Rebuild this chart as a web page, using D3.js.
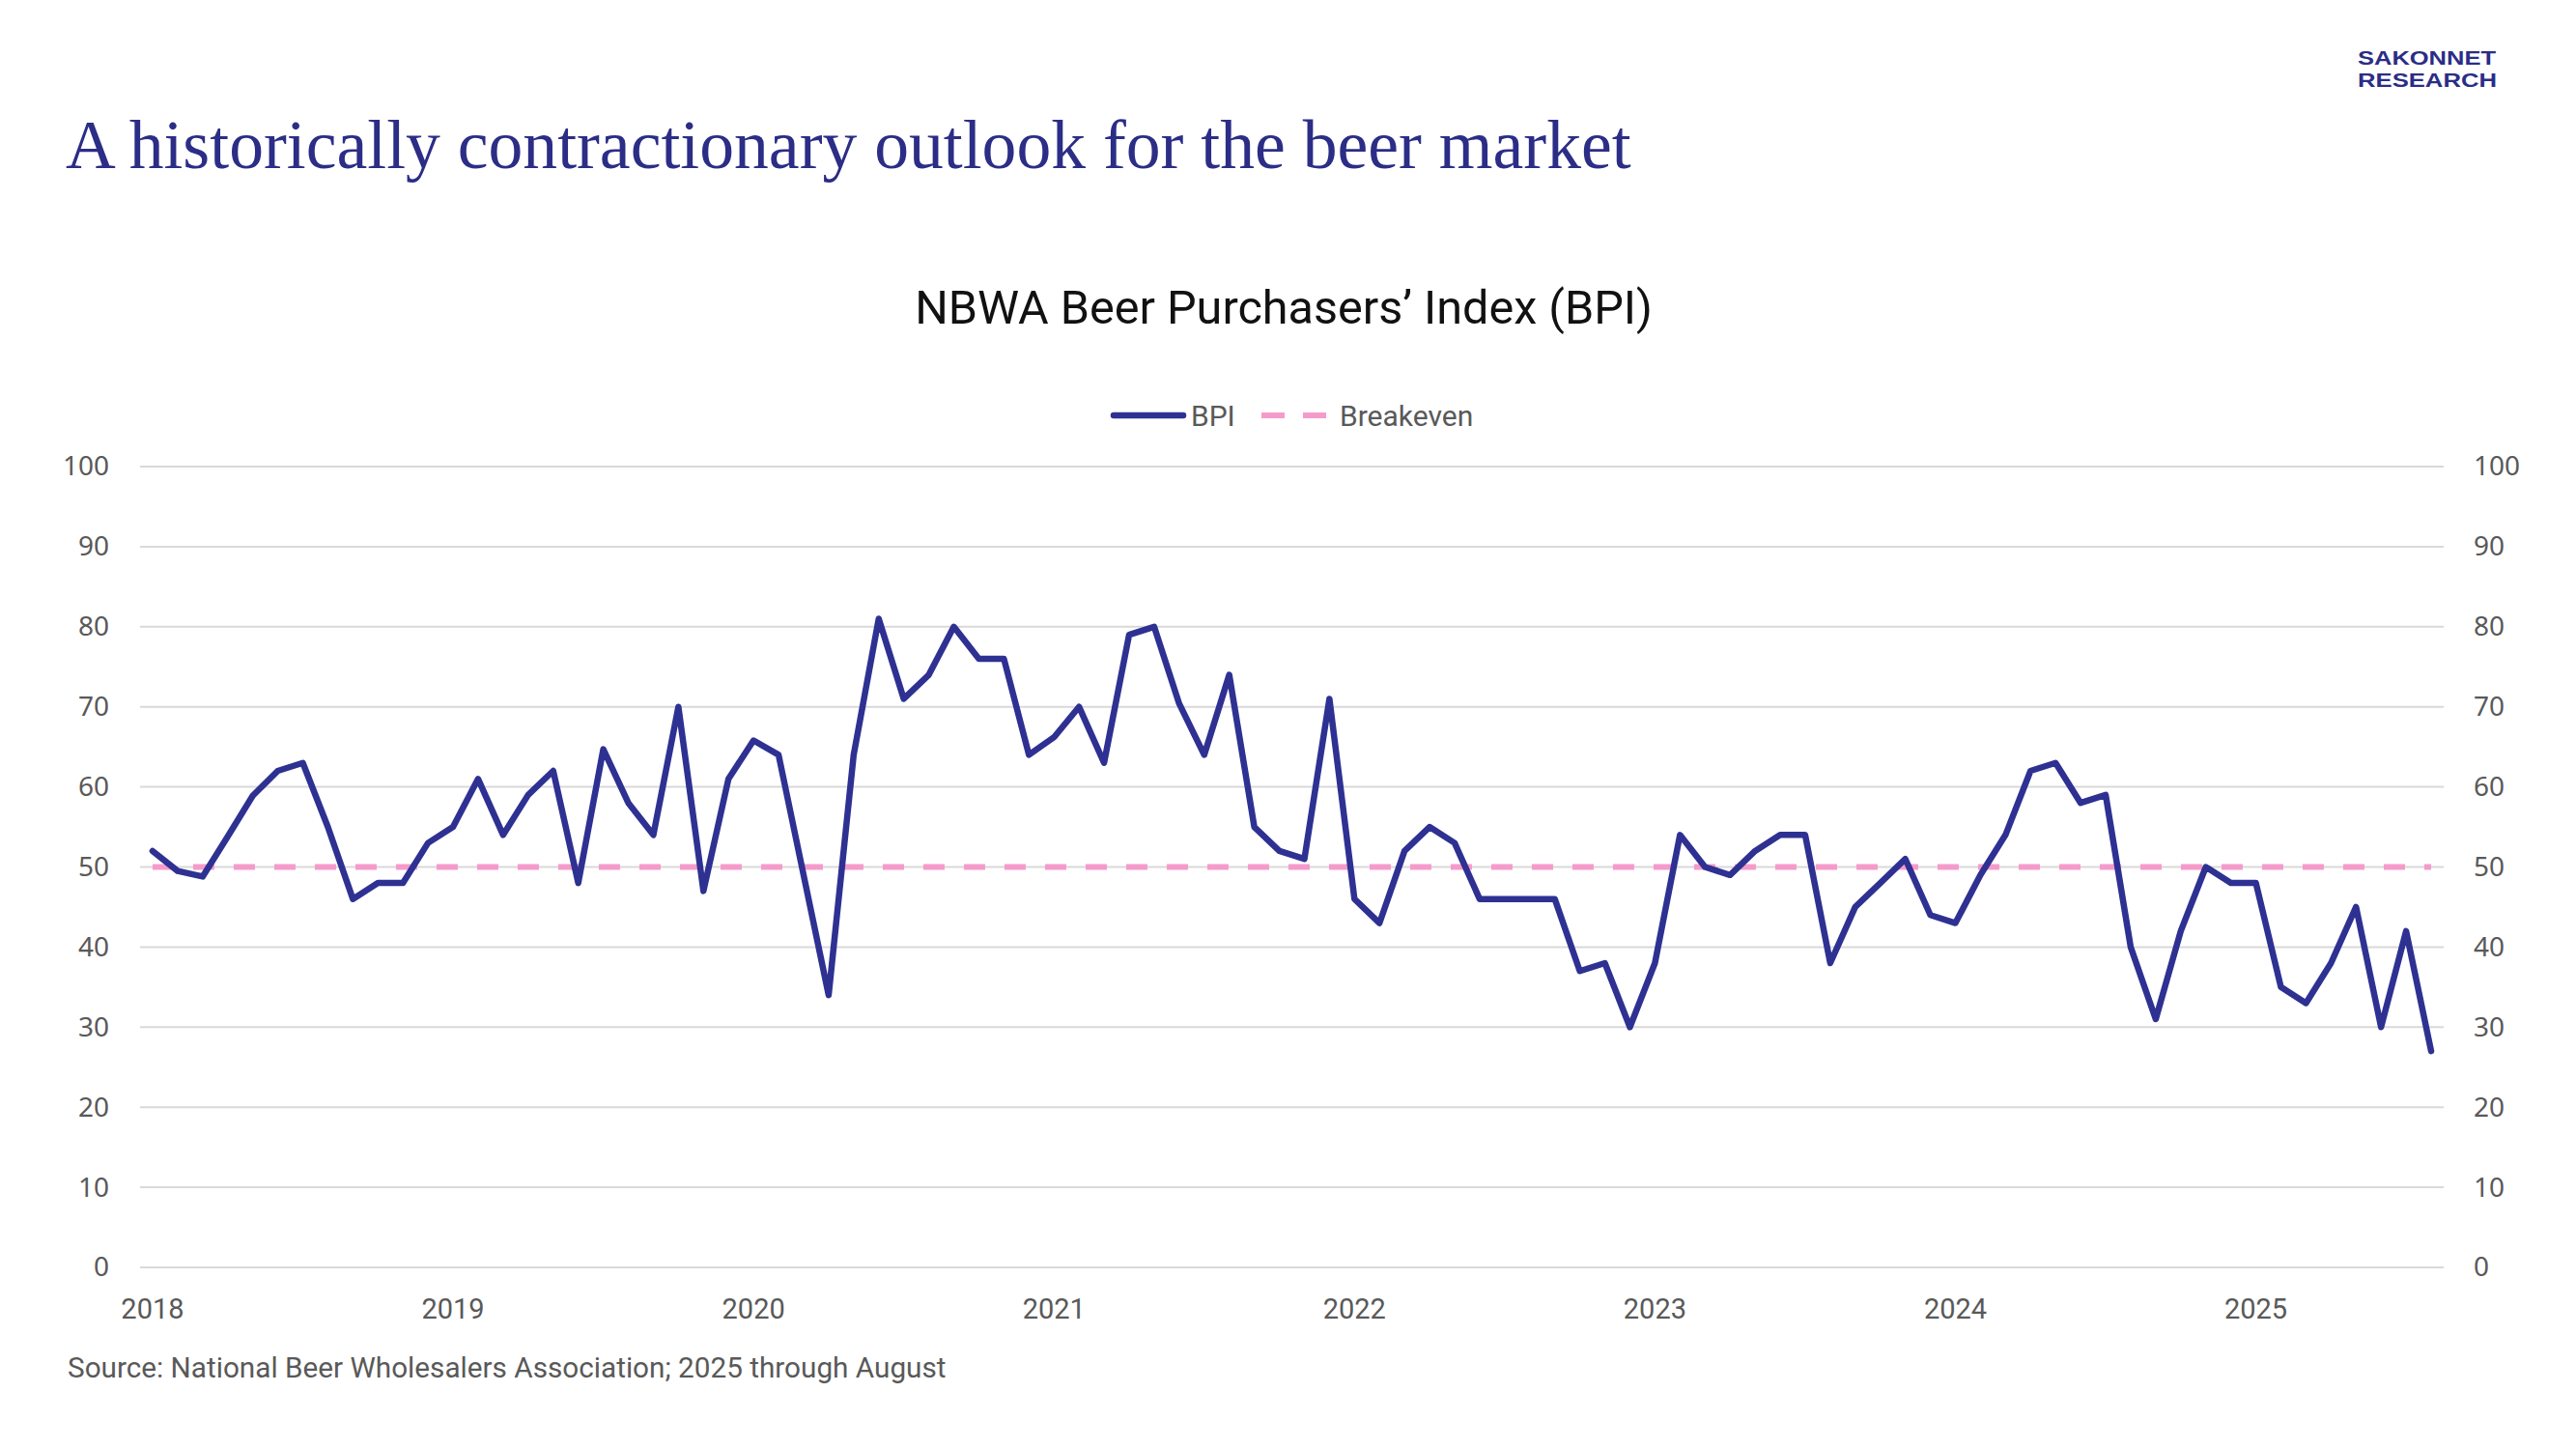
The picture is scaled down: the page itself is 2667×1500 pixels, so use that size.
<!DOCTYPE html>
<html>
<head>
<meta charset="utf-8">
<script src="https://cdn.jsdelivr.net/npm/d3@7/dist/d3.min.js"></script>
<style>
  html, body { margin: 0; padding: 0; background: #ffffff; }
  svg { display: block; }
</style>
</head>
<body>
<svg id="chart" width="2667" height="1500"></svg>
<script>
// ---------- DATA ----------
const years = [2018, 2019, 2020, 2021, 2022, 2023, 2024, 2025];
const monthsThroughAug2025 = [];
years.forEach(y => {
  const last = y === 2025 ? 8 : 12;
  for (let m = 1; m <= last; m++) monthsThroughAug2025.push(y + "-" + String(m).padStart(2, "0"));
});
const categories = monthsThroughAug2025;

const bpiValues = [
  // 2018
  52, 49.5, 48.8, 53.8, 58.9, 62, 63, 55, 46, 48, 48, 53,
  // 2019
  55, 61, 54, 59, 62, 48, 64.7, 58, 54, 70, 47, 61,
  // 2020
  65.8, 64, 49, 34, 64, 81, 71, 74, 80, 76, 76, 64,
  // 2021
  66.2, 70, 63, 79, 80, 70.4, 64, 74, 55, 52, 51, 71,
  // 2022
  46, 43, 52, 55, 53, 46, 46, 46, 46, 37, 38, 30,
  // 2023
  38, 54, 50, 49, 52, 54, 54, 38, 45, 48, 51, 44,
  // 2024
  43, 49, 54, 62, 63, 58, 59, 40, 31, 42, 50, 48,
  // 2025 (through August)
  48, 35, 33, 38, 45, 30, 42, 27
];
const breakevenValue = 50;
const yTicks = [0, 10, 20, 30, 40, 50, 60, 70, 80, 90, 100];
const xTickLabels = ["2018", "2019", "2020", "2021", "2022", "2023", "2024", "2025"];
const seriesNames = ["BPI", "Breakeven"];

const titleText = "A historically contractionary outlook for the beer market";
const chartTitleText = "NBWA Beer Purchasers\u2019 Index (BPI)";
const sourceText = "Source: National Beer Wholesalers Association; 2025 through August";
const logoLines = ["SAKONNET", "RESEARCH"];

// ---------- LAYOUT ----------
const navy = "#2e3192";
const pink = "#f59bcb";
const gridColor = "#d9d9d9";
const labelColor = "#595959";

const plot = { left: 145, right: 2530, top: 483, bottom: 1312 };

const svg = d3.select("#chart");

function fitWidth(sel, target) {
  const w = sel.node().getComputedTextLength();
  const fs = parseFloat(sel.attr("font-size"));
  sel.attr("font-size", fs * target / w);
}

// Header title
const t = svg.append("text")
  .attr("x", 68).attr("y", 174)
  .attr("font-family", "'Liberation Serif', 'DejaVu Serif', serif")
  .attr("font-size", 72)
  .attr("fill", "#2b2d86")
  .text(titleText);
fitWidth(t, 1621);

// Logo
const logo = svg.append("g").attr("fill", "#2b2d86")
  .attr("font-family", "'Liberation Sans', Arial, sans-serif")
  .attr("font-weight", "bold");
logo.append("text").attr("x", 2441).attr("y", 67).attr("font-size", 21)
  .attr("textLength", 143).attr("lengthAdjust", "spacingAndGlyphs").text(logoLines[0]);
logo.append("text").attr("x", 2441).attr("y", 90).attr("font-size", 21)
  .attr("textLength", 144).attr("lengthAdjust", "spacingAndGlyphs").text(logoLines[1]);

// Chart title
const ct = svg.append("text")
  .attr("x", 1329).attr("y", 335)
  .attr("text-anchor", "middle")
  .attr("font-family", "Roboto, 'Open Sans', sans-serif")
  .attr("font-size", 50)
  .attr("fill", "#111111")
  .text(chartTitleText);
fitWidth(ct, 764);

// ---------- SCALES ----------
const x = d3.scaleBand().domain(categories).range([plot.left, plot.right]).padding(0);
const xc = d => x(d) + x.bandwidth() / 2;
const y = d3.scaleLinear().domain([0, 100]).range([plot.bottom, plot.top]);

// Gridlines
svg.append("g").selectAll("line").data(yTicks).join("line")
  .attr("x1", plot.left).attr("x2", plot.right)
  .attr("y1", d => y(d)).attr("y2", d => y(d))
  .attr("stroke", gridColor).attr("stroke-width", 2);

// Axes
const axisFont = "'Noto Sans', 'DejaVu Sans', sans-serif";
const leftAxis = svg.append("g").attr("transform", `translate(${plot.left},0)`)
  .call(d3.axisLeft(y).tickValues(yTicks).tickSize(0).tickPadding(32));
const rightAxis = svg.append("g").attr("transform", `translate(${plot.right},0)`)
  .call(d3.axisRight(y).tickValues(yTicks).tickSize(0).tickPadding(31));
[leftAxis, rightAxis].forEach(a => {
  a.select(".domain").remove();
  a.selectAll("text").attr("font-family", axisFont).attr("font-size", 28).attr("fill", labelColor);
});

const janCats = categories.filter(c => c.endsWith("-01"));
const bottomAxis = svg.append("g").attr("transform", `translate(0,${plot.bottom})`)
  .call(d3.axisBottom(x).tickValues(janCats).tickSize(0).tickPadding(32)
    .tickFormat((d, i) => xTickLabels[i]));
bottomAxis.select(".domain").remove();
bottomAxis.selectAll("text").attr("font-family", "Roboto, sans-serif").attr("font-size", 29).attr("fill", labelColor);

// Breakeven line
const lineGen = d3.line().x(d => xc(d.c)).y(d => y(d.v));
svg.append("path")
  .datum(categories.map(c => ({ c, v: breakevenValue })))
  .attr("d", lineGen)
  .attr("fill", "none").attr("stroke", pink).attr("stroke-width", 6)
  .attr("stroke-dasharray", "22,20");

// BPI line
svg.append("path")
  .datum(categories.map((c, i) => ({ c, v: bpiValues[i] })))
  .attr("d", lineGen)
  .attr("fill", "none").attr("stroke", navy).attr("stroke-width", 6.5)
  .attr("stroke-linejoin", "round").attr("stroke-linecap", "round");

// Legend
const lg = svg.append("g").attr("font-family", "Roboto, sans-serif").attr("font-size", 30).attr("fill", labelColor);
lg.append("line").attr("x1", 1153).attr("x2", 1225).attr("y1", 430).attr("y2", 430)
  .attr("stroke", navy).attr("stroke-width", 6.5).attr("stroke-linecap", "round");
lg.append("text").attr("x", 1233).attr("y", 441).text(seriesNames[0]);
lg.append("line").attr("x1", 1306).attr("x2", 1373).attr("y1", 430).attr("y2", 430)
  .attr("stroke", pink).attr("stroke-width", 6).attr("stroke-dasharray", "24,19");
lg.append("text").attr("x", 1387).attr("y", 441).text(seriesNames[1]);

// Source
const src = svg.append("text")
  .attr("x", 70).attr("y", 1426)
  .attr("font-family", "Roboto, sans-serif")
  .attr("font-size", 28)
  .attr("fill", labelColor)
  .text(sourceText);
fitWidth(src, 910);
</script>
</body>
</html>
